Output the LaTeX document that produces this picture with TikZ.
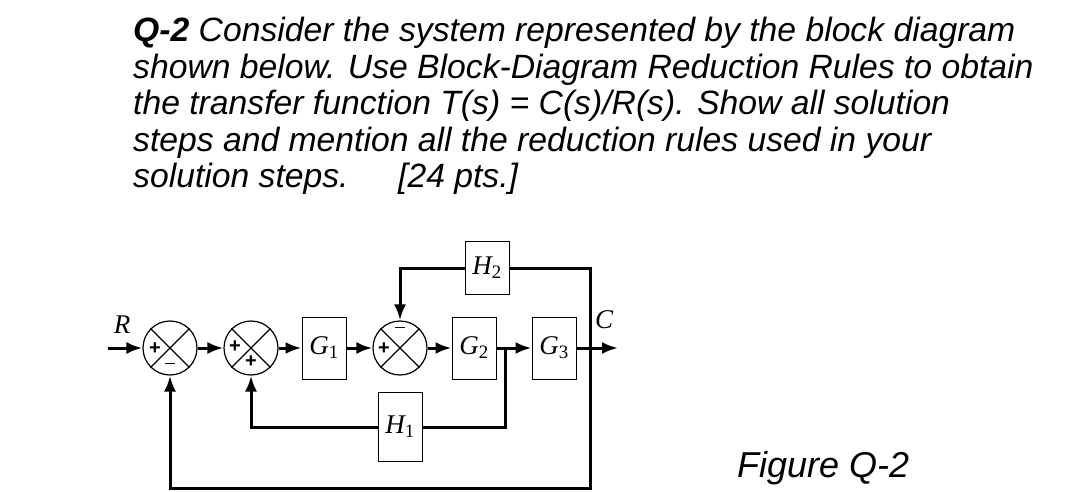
\documentclass[tikz,border=0pt]{standalone}
\usepackage{fontspec}
\setmainfont{Liberation Sans}
\newfontfamily\dia{Liberation Serif}
\usetikzlibrary{arrows.meta}
\newcommand{\mns}{\rule[0.25em]{10pt}{1.8pt}}
\begin{document}
\begin{tikzpicture}[x=1pt,y=-1pt,
  blk/.style={draw,line width=1pt,minimum width=44pt,minimum height=62pt,inner sep=0pt,font=\dia\itshape\fontsize{27}{27}\selectfont},
  sj/.style={draw,line width=1.2pt,circle,minimum size=54pt,inner sep=0pt},
  sg/.style={font=\fontsize{20}{20}\selectfont\bfseries,inner sep=0pt},
  tl/.style={anchor=base west,inner sep=0pt,font=\fontsize{33.7}{33.7}\selectfont\itshape},
  w/.style={line width=3pt},
  a/.style={w,-{Latex[length=16pt,width=12pt]}}]
\useasboundingbox (0,0) rectangle (1090,492);
\node[tl] (t1) at (133,42) {\textbf{Q-2} Consider the system represented by the block diagram};
\node[tl] (t2) at (133,79) {shown below. Use Block-Diagram Reduction Rules to obtain};
\node[tl] (t3) at (133,115) {the transfer function T(s) = C(s)/R(s). Show all solution};
\node[tl] (t4) at (133,152) {steps and mention all the reduction rules used in your};
\node[tl] (t5) at (133,188) {solution steps.};
\node[tl] (t6) at (398,188) {[24 pts.]};
\node[tl,font=\fontsize{36}{36}\selectfont\itshape] (fig) at (737,477) {Figure Q-2};
\foreach \n/\x in {s1/170,s2/251,s3/400}{
  \node[sj] (\n) at (\x,348) {};
  \draw[line width=1.2pt] (\n.45)--(\n.225) (\n.135)--(\n.315);}
\node[sg] at (155,349) {+}; \node[sg] at (170,366) {\mns};
\node[sg] at (235,347) {+}; \node[sg] at (251,362) {+};
\node[sg] at (384,349) {+}; \node[sg] at (400,330) {\mns};
\node[blk] (g1) at (324,348) {G\textsubscript{\upshape 1}};
\node[blk] (g2) at (474,348) {G\textsubscript{\upshape 2}};
\node[blk] (g3) at (554,348) {G\textsubscript{\upshape 3}};
\node[blk,minimum height=53pt] (h2) at (487,268) {H\textsubscript{\upshape 2}};
\node[blk,minimum height=69pt] (h1) at (400,427) {H\textsubscript{\upshape 1}};
\node[font=\dia\itshape\fontsize{27}{27}\selectfont] (R) at (122,325) {R};
\node[font=\dia\itshape\fontsize{27}{27}\selectfont] (C) at (604,320) {C};
\coordinate (in) at (108,348);
\coordinate (out) at (618,348);
\coordinate (b1) at (505,348);
\coordinate (b2) at (590,348);
\draw[a] (in)--(s1);
\draw[a] (s1)--(s2);
\draw[a] (s2)--(g1);
\draw[a] (g1)--(s3);
\draw[a] (s3)--(g2);
\draw[a] (g2)--(g3);
\draw[a] (g3)--(out);
\draw[a] (b2)|-(h2.east) (h2.west)-|(s3);
\draw[a] (b1)|-(h1.east) (h1.west)-|(s2);
\draw[a] (b2)|-(170,488)--(s1);
\end{tikzpicture}
\end{document}
